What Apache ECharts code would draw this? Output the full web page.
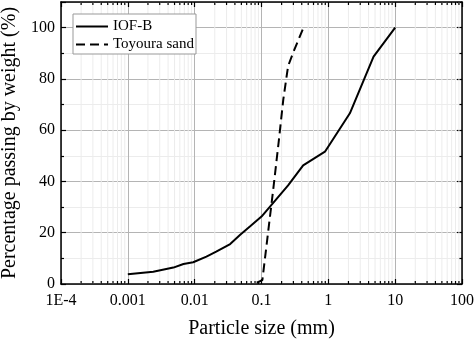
<!DOCTYPE html>
<html>
<head>
<meta charset="utf-8">
<script src="https://cdn.jsdelivr.net/npm/echarts@6/dist/echarts.min.js"></script>
<style>html,body{margin:0;padding:0;background:#fff}#c{width:474px;height:362px}</style>
</head>
<body>
<div id="c"></div>
<script>
// Particle size (mm) and percentage passing (%)
const iofSize = [0.001, 0.0024, 0.0048, 0.0068, 0.0095, 0.015, 0.021, 0.034, 0.048, 0.067, 0.1, 0.25, 0.42, 0.89, 2.1, 4.75, 10];
const iofPass = [3.8, 4.8, 6.4, 7.8, 8.5, 10.7, 12.6, 15.6, 19.2, 22.4, 26.3, 38.5, 46.3, 51.6, 66.6, 88.7, 100];
const toySize = [0.085, 0.103, 0.15, 0.18, 0.212, 0.25, 0.3, 0.425];
const toyPass = [0.5, 1.5, 37, 55, 72, 85, 90.5, 100];
const xTickLabels = ['1E-4', '0.001', '0.01', '0.1', '1', '10', '100'];
const seriesNames = ['IOF-B', 'Toyoura sand'];

const FONT = 'Liberation Serif';
const minorX = [];
for (let e = -4; e < 2; e++) for (let m = 2; m <= 9; m++) minorX.push(m * Math.pow(10, e));

const chart = echarts.init(document.getElementById('c'), null, {renderer: 'canvas'});
const xBase = {
  type: 'log', logBase: 10, min: 0.0001, max: 100, splitNumber: 6,
  axisLine: {show: true, onZero: false, lineStyle: {color: '#000', width: 1.5}},
  axisTick: {show: true, inside: true, length: 5, lineStyle: {color: '#000', width: 1.2}},
  minorTick: {show: false}
};
const yBase = {
  type: 'value', min: 0, max: 110, interval: 20,
  axisLine: {show: true, onZero: false, lineStyle: {color: '#000', width: 1.5}},
  axisTick: {show: true, inside: true, length: 5, lineStyle: {color: '#000', width: 1.2}},
  minorTick: {show: true, splitNumber: 2, length: 3, lineStyle: {color: '#000', width: 1.2}}
};
chart.setOption({
  backgroundColor: '#fff',
  animation: false,
  grid: {left: 61, right: 12, top: 2, bottom: 78, containLabel: false, outerBoundsMode: 'none'},
  legend: {
    data: seriesNames, orient: 'vertical', left: 73, top: 14,
    backgroundColor: '#fff', borderColor: '#999', borderWidth: 1,
    padding: [5, 2, 2, 2], itemGap: 3, itemWidth: 32, itemHeight: 14,
    itemStyle: {color: 'rgba(0,0,0,0)', borderWidth: 0, opacity: 0},
    textStyle: {fontFamily: FONT, fontSize: 15, color: '#000'}
  },
  xAxis: [
    Object.assign({}, xBase, {
      position: 'bottom',
      name: 'Particle size (mm)', nameLocation: 'middle', nameGap: 35,
      nameTextStyle: {fontFamily: FONT, fontSize: 20, color: '#000'},
      axisLabel: {margin: 9, fontFamily: FONT, fontSize: 16, color: '#000',
        formatter: v => xTickLabels[Math.round(Math.log10(v)) + 4]},
      splitLine: {show: true, lineStyle: {color: '#b4b4b4', width: 1}}
    }),
    Object.assign({}, xBase, {
      position: 'top', axisLabel: {show: false}, splitLine: {show: false}
    })
  ],
  yAxis: [
    Object.assign({}, yBase, {
      position: 'left',
      name: 'Percentage passing by weight (%)', nameLocation: 'middle', nameGap: 34,
      nameTextStyle: {fontFamily: FONT, fontSize: 20, color: '#000'},
      axisLabel: {margin: 6, fontFamily: FONT, fontSize: 16, color: '#000',
        formatter: v => (v > 100 ? '' : String(v))},
      splitLine: {show: true, lineStyle: {color: '#b4b4b4', width: 1}},
      minorSplitLine: {show: true, lineStyle: {color: '#ececec', width: 1}}
    }),
    Object.assign({}, yBase, {
      position: 'right', axisLabel: {show: false}, splitLine: {show: false}
    })
  ],
  series: [
    {
      type: 'custom', name: 'minor', xAxisIndex: 0, yAxisIndex: 0, z: 1, silent: true,
      data: minorX.map(v => [v, 0]),
      renderItem: function (params, api) {
        const v = api.value(0);
        const b = api.coord([v, 0]);
        const t = api.coord([v, 110]);
        return {type: 'group', children: [
          {type: 'line', shape: {x1: b[0], y1: b[1], x2: t[0], y2: t[1]}, style: {stroke: '#ececec', lineWidth: 1}, z2: 0},
          {type: 'line', shape: {x1: b[0], y1: b[1], x2: b[0], y2: b[1] - 3}, style: {stroke: '#000', lineWidth: 1.2}, z2: 5},
          {type: 'line', shape: {x1: t[0], y1: t[1], x2: t[0], y2: t[1] + 3}, style: {stroke: '#000', lineWidth: 1.2}, z2: 5}
        ]};
      }
    },
    {
      type: 'line', name: seriesNames[0], xAxisIndex: 0, yAxisIndex: 0, z: 3,
      data: iofSize.map((s, i) => [s, iofPass[i]]),
      showSymbol: false, symbol: 'none', smooth: false,
      lineStyle: {color: '#000', width: 2, type: 'solid'}, itemStyle: {color: '#000'}
    },
    {
      type: 'line', name: seriesNames[1], xAxisIndex: 0, yAxisIndex: 0, z: 3,
      data: toySize.map((s, i) => [s, toyPass[i]]),
      showSymbol: false, symbol: 'none', smooth: false,
      lineStyle: {color: '#000', width: 2, type: [9, 5]}, itemStyle: {color: '#000'}
    }
  ]
});
</script>
</body>
</html>
